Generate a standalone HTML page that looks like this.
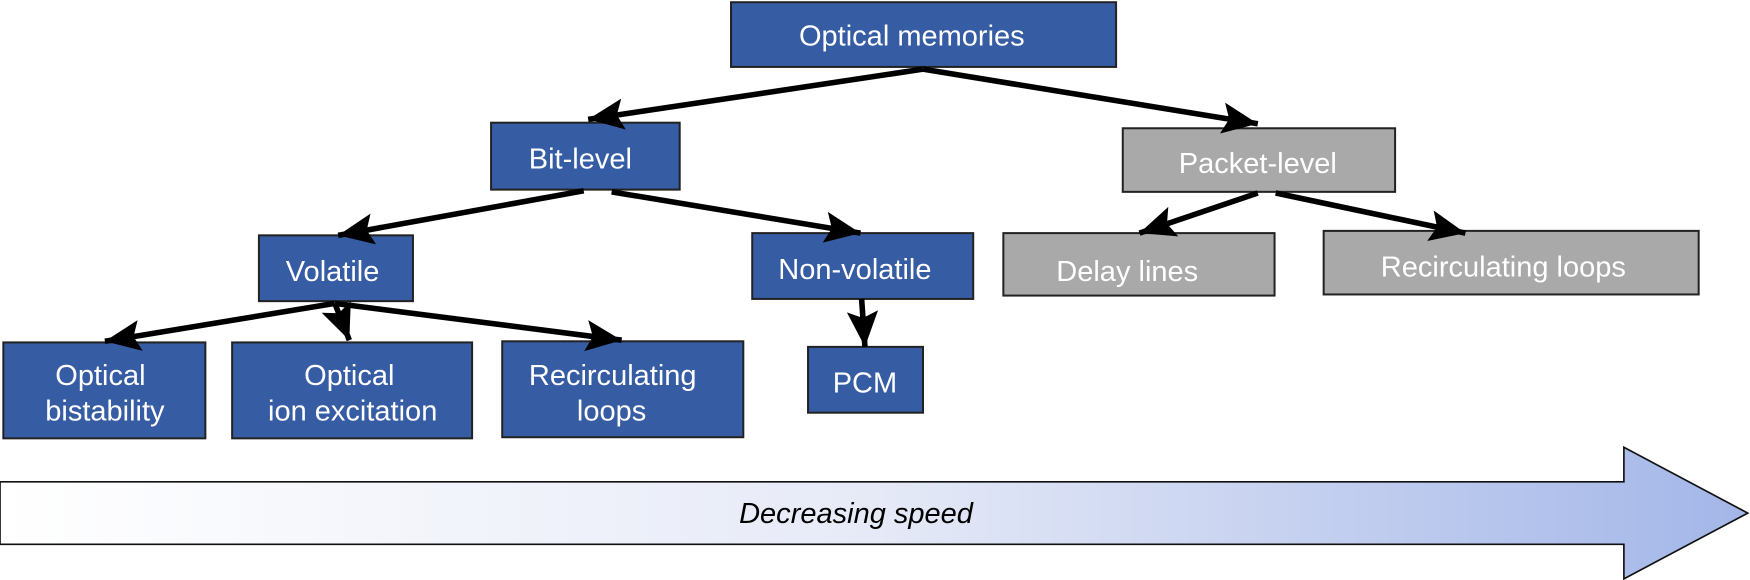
<!DOCTYPE html>
<html><head><meta charset="utf-8"><style>
html,body{margin:0;padding:0;background:#fff;width:1750px;height:580px;overflow:hidden}
svg{display:block}
text{font-family:"Liberation Sans",Arial,sans-serif;font-size:26px;fill:#fff;text-anchor:middle}
</style></head><body>
<svg width="1750" height="580" viewBox="0 0 1568 520" preserveAspectRatio="none" xmlns="http://www.w3.org/2000/svg">
<defs>
<linearGradient id="g" x1="0" x2="1" y1="0" y2="0">
<stop offset="0" stop-color="#ffffff"/><stop offset="0.5" stop-color="#e6eaf7"/><stop offset="1" stop-color="#a3b6e8"/>
</linearGradient>
<marker id="a" markerUnits="userSpaceOnUse" markerWidth="34" markerHeight="34" viewBox="0 0 34 34" refX="32" refY="17" orient="auto">
<path d="M0,3 L32,17 L0,31 L6,17 Z" fill="#000"/>
</marker>
</defs>
<g stroke="#222" stroke-width="1.8">
<rect x="655" y="2" width="345" height="58" fill="#365ca4"/>
<rect x="440" y="110" width="169" height="60" fill="#365ca4"/>
<rect x="1006" y="115" width="244" height="57" fill="#a9a9a9"/>
<rect x="232" y="211" width="138" height="59" fill="#365ca4"/>
<rect x="674" y="209" width="198" height="59" fill="#365ca4"/>
<rect x="899" y="209" width="243" height="56" fill="#a9a9a9"/>
<rect x="1186" y="207" width="336" height="57" fill="#a9a9a9"/>
<rect x="3" y="307" width="181" height="86" fill="#365ca4"/>
<rect x="208" y="307" width="215" height="86" fill="#365ca4"/>
<rect x="450" y="306" width="216" height="86" fill="#365ca4"/>
<rect x="724" y="311" width="103" height="59" fill="#365ca4"/>
</g>
<g stroke="#000" stroke-width="5" fill="none" marker-end="url(#a)">
<line x1="827" y1="62" x2="527" y2="107"/>
<line x1="827" y1="62" x2="1127" y2="111"/>
<line x1="523" y1="171" x2="303" y2="211"/>
<line x1="548" y1="172" x2="771" y2="209"/>
<line x1="772" y1="268" x2="775" y2="311"/>
<line x1="1127" y1="173" x2="1021" y2="209"/>
<line x1="1143" y1="173" x2="1313" y2="209"/>
<line x1="300" y1="272" x2="94" y2="306"/>
<line x1="300" y1="272" x2="313" y2="305"/>
<line x1="300" y1="272" x2="557" y2="305"/>
</g>
<text x="817" y="41">Optical memories</text>
<text x="520" y="151">Bit-level</text>
<text x="1127" y="155">Packet-level</text>
<text x="298" y="252">Volatile</text>
<text x="766" y="250">Non-volatile</text>
<text x="1010" y="252">Delay lines</text>
<text x="1347" y="248">Recirculating loops</text>
<text x="90" y="345">Optical</text><text x="94" y="377">bistability</text>
<text x="313" y="345">Optical</text><text x="316" y="377">ion excitation</text>
<text x="549" y="345">Recirculating</text><text x="548" y="377">loops</text>
<text x="775" y="352">PCM</text>
<path d="M0,432 L1455,432 L1455,401 L1566,460 L1455,519 L1455,488 L0,488 Z" fill="url(#g)" stroke="#111" stroke-width="1.5"/>
<text x="767" y="469" style="fill:#000;font-style:italic">Decreasing speed</text>
</svg>
</body></html>
